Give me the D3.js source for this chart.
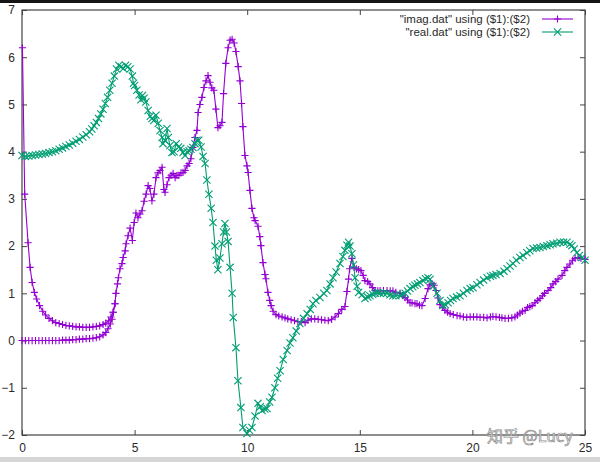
<!DOCTYPE html>
<html>
<head>
<meta charset="utf-8">
<script src="https://cdn.jsdelivr.net/npm/d3@7"></script>
<style>
  html, body { margin: 0; padding: 0; background: #fff; }
  svg { display: block; }
</style>
</head>
<body>
<svg id="chart" width="600" height="462"></svg>
<script>
// ---------------- data ----------------
const xTicks = [0, 5, 10, 15, 20, 25];
const yTicks = [-2, -1, 0, 1, 2, 3, 4, 5, 6, 7];
const seriesNames = ['"imag.dat" using ($1):($2)', '"real.dat" using ($1):($2)'];

// imag.dat : decaying branch starting at x=0
const imagBranchA = [[0.02,6.2],[0.12,3.1],[0.27,2.07],[0.36,1.55],[0.45,1.23],[0.55,1.02],[0.65,0.88],[0.78,0.74],
  [0.92,0.62],[1.05,0.54],[1.2,0.47],[1.35,0.42],[1.5,0.38],[1.65,0.36],[1.8,0.34],[1.95,0.32],[2.1,0.31],
  [2.25,0.3],[2.4,0.29],[2.55,0.29],[2.7,0.28],[2.85,0.28],[3.0,0.28],[3.15,0.29],[3.3,0.3],[3.45,0.31],
  [3.6,0.34],[3.72,0.37],[3.85,0.42],[3.95,0.5],[4.04,0.6],[4.13,0.78]];

// imag.dat : main branch
const imagBranchB = [[0,0],[0.15,0],[0.3,0],[0.45,0],[0.6,0],[0.75,0],[0.9,0],[1.05,0],[1.2,0],[1.35,0],
  [1.5,0],[1.65,0],[1.8,0.01],[1.95,0.01],[2.1,0.01],[2.25,0.02],[2.4,0.02],[2.55,0.03],[2.7,0.03],
  [2.85,0.04],[3.0,0.04],[3.15,0.05],[3.3,0.06],[3.45,0.08],[3.6,0.12],[3.72,0.17],[3.82,0.25],[3.92,0.35],
  [4.0,0.45],[4.06,0.6],[4.13,0.78],[4.17,1.0],[4.24,1.2],[4.28,1.33],[4.35,1.52],[4.44,1.63],[4.49,1.76],
  [4.58,1.9],[4.62,2.05],[4.71,2.22],[4.8,2.38],[4.9,2.12],[4.98,2.5],[5.06,2.7],[5.15,2.6],[5.24,2.68],
  [5.33,2.75],[5.42,2.95],[5.51,3.1],[5.6,3.28],[5.68,3.22],[5.77,2.96],[5.86,3.1],[5.95,3.45],[6.04,3.55],
  [6.13,3.6],[6.22,3.67],[6.3,3.2],[6.35,3.14],[6.44,3.3],[6.53,3.45],[6.62,3.5],[6.71,3.54],[6.8,3.45],
  [6.88,3.5],[6.97,3.5],[7.06,3.55],[7.15,3.56],[7.24,3.6],[7.33,3.7],[7.42,3.75],[7.5,3.85],[7.59,4.09],
  [7.68,4.3],[7.77,4.45],[7.82,4.83],[7.9,5.0],[7.99,5.15],[8.08,5.36],[8.17,5.5],[8.26,5.61],[8.35,5.47],
  [8.43,5.35],[8.52,5.3],[8.61,4.9],[8.7,4.51],[8.79,4.55],[8.88,4.62],[8.95,5.23],[9.05,5.87],[9.15,6.2],
  [9.24,6.36],[9.33,6.38],[9.42,6.3],[9.5,6.12],[9.6,5.8],[9.68,5.5],[9.75,5.02],[9.81,4.53],[9.9,3.92],
  [9.99,3.7],[10.04,3.56],[10.12,3.18],[10.21,2.8],[10.3,2.6],[10.35,2.54],[10.48,2.42],[10.56,2.2],
  [10.61,2.01],[10.7,1.65],[10.79,1.4],[10.83,1.31],[10.92,1.02],[11.0,0.85],[11.06,0.74],[11.15,0.62],
  [11.28,0.55],[11.4,0.52],[11.55,0.5],[11.68,0.48],[11.8,0.46],[11.95,0.44],[12.1,0.42],[12.25,0.4],
  [12.4,0.4],[12.57,0.38],[12.7,0.43],[12.85,0.46],[13.0,0.46],[13.15,0.45],[13.3,0.44],[13.45,0.43],
  [13.6,0.42],[13.75,0.45],[13.9,0.5],[14.05,0.57],[14.2,0.66],[14.34,0.72],[14.43,1.04],[14.5,1.3],
  [14.55,1.52],[14.65,1.74],[14.75,1.55],[14.85,1.52],[14.95,1.5],[15.05,1.48],[15.15,1.38],[15.23,1.27],
  [15.35,1.25],[15.45,1.2],[15.57,1.12],[15.68,1.06],[15.8,1.05],[15.9,1.06],[16.05,1.06],[16.21,1.06],
  [16.35,1.05],[16.47,1.05],[16.6,1.02],[16.79,1.0],[16.9,0.95],[17.01,0.91],[17.12,0.86],[17.23,0.8],
  [17.32,0.8],[17.45,0.78],[17.54,0.78],[17.65,0.75],[17.76,0.74],[17.9,0.89],[18.03,1.1],[18.12,1.18],
  [18.21,1.2],[18.3,1.17],[18.38,1.06],[18.47,0.9],[18.56,0.76],[18.67,0.7],[18.78,0.64],[18.9,0.6],
  [19.01,0.57],[19.15,0.55],[19.32,0.53],[19.45,0.52],[19.6,0.5],[19.75,0.49],[19.9,0.5],[20.05,0.5],
  [20.2,0.5],[20.34,0.49],[20.5,0.49],[20.65,0.48],[20.8,0.5],[20.91,0.51],[21.05,0.5],[21.2,0.49],
  [21.31,0.48],[21.45,0.47],[21.6,0.47],[21.75,0.48],[21.89,0.5],[22.0,0.54],[22.11,0.58],[22.22,0.62],
  [22.34,0.64],[22.45,0.7],[22.55,0.72],[22.65,0.74],[22.78,0.8],[22.9,0.85],[23.0,0.89],[23.12,0.95],
  [23.2,1.0],[23.36,1.06],[23.48,1.12],[23.58,1.2],[23.7,1.25],[23.8,1.3],[23.98,1.38],[24.1,1.48],
  [24.2,1.55],[24.33,1.62],[24.45,1.7],[24.56,1.74],[24.69,1.76],[24.82,1.74],[25.0,1.72]];

// real.dat
const realPoints = [[0,3.92],[0.15,3.9],[0.3,3.91],[0.45,3.92],[0.6,3.93],[0.75,3.94],[0.9,3.95],[1.05,3.96],
  [1.2,3.98],[1.35,4.0],[1.5,4.02],[1.65,4.05],[1.8,4.08],[1.95,4.11],[2.1,4.14],[2.25,4.18],[2.4,4.22],
  [2.55,4.26],[2.7,4.31],[2.85,4.36],[3.0,4.42],[3.1,4.48],[3.2,4.55],[3.3,4.62],[3.4,4.7],[3.5,4.8],
  [3.6,4.9],[3.7,5.02],[3.8,5.15],[3.9,5.3],[4.0,5.45],[4.1,5.6],[4.2,5.75],[4.3,5.83],[4.4,5.8],
  [4.5,5.76],[4.6,5.83],[4.7,5.8],[4.8,5.75],[4.9,5.6],[4.95,5.45],[5.0,5.4],[5.1,5.3],[5.2,5.2],
  [5.28,5.1],[5.35,5.19],[5.42,5.13],[5.5,5.05],[5.6,4.87],[5.7,4.75],[5.77,4.7],[5.85,4.66],[5.95,4.77],
  [6.05,4.6],[6.13,4.45],[6.22,4.3],[6.26,4.17],[6.35,4.24],[6.44,4.49],[6.5,4.3],[6.57,4.13],[6.66,3.98],
  [6.75,4.0],[6.85,4.17],[6.95,4.1],[7.05,4.07],[7.15,3.98],[7.24,3.92],[7.33,4.0],[7.42,4.02],[7.5,4.05],
  [7.59,4.09],[7.68,4.17],[7.77,4.24],[7.85,4.24],[7.95,4.1],[8.04,3.9],[8.13,3.75],[8.21,3.4],[8.3,3.1],
  [8.4,2.8],[8.48,2.5],[8.57,2.0],[8.63,1.7],[8.7,1.5],[8.79,1.75],[8.88,2.05],[8.95,2.3],[9.01,2.48],
  [9.08,2.3],[9.15,2.1],[9.24,1.55],[9.33,1.0],[9.38,0.49],[9.5,-0.15],[9.59,-0.85],[9.72,-1.42],
  [9.81,-1.84],[9.99,-1.97],[10.1,-1.9],[10.21,-1.84],[10.35,-1.6],[10.48,-1.33],[10.58,-1.4],[10.66,-1.48],
  [10.78,-1.45],[10.88,-1.44],[11.0,-1.3],[11.1,-1.2],[11.23,-1.0],[11.35,-0.8],[11.46,-0.64],[11.6,-0.4],
  [11.77,-0.21],[11.9,-0.05],[12.03,0.06],[12.18,0.2],[12.34,0.36],[12.5,0.47],[12.66,0.57],[12.8,0.66],
  [12.92,0.78],[13.05,0.85],[13.23,0.91],[13.4,1.0],[13.54,1.06],[13.68,1.2],[13.81,1.33],[13.95,1.45],
  [14.12,1.63],[14.25,1.78],[14.34,1.91],[14.43,2.02],[14.5,2.08],[14.56,2.0],[14.65,1.84],[14.72,1.6],
  [14.79,1.33],[14.88,1.15],[14.95,1.02],[15.1,0.97],[15.23,0.89],[15.35,0.92],[15.45,0.95],[15.57,0.98],
  [15.68,1.0],[15.8,1.02],[15.9,1.0],[16.05,1.0],[16.2,1.0],[16.34,0.97],[16.47,0.95],[16.6,0.95],
  [16.79,0.96],[16.9,0.98],[17.01,1.0],[17.12,1.05],[17.23,1.1],[17.35,1.14],[17.45,1.17],[17.56,1.2],
  [17.67,1.23],[17.8,1.27],[17.92,1.31],[18.03,1.33],[18.12,1.3],[18.25,1.15],[18.43,1.0],[18.56,0.85],
  [18.69,0.74],[18.8,0.76],[18.92,0.8],[19.03,0.85],[19.14,0.89],[19.3,0.92],[19.45,0.95],[19.6,1.0],
  [19.76,1.06],[19.9,1.1],[20.03,1.12],[20.2,1.18],[20.34,1.23],[20.5,1.28],[20.65,1.33],[20.8,1.36],
  [20.91,1.38],[21.05,1.4],[21.23,1.42],[21.4,1.47],[21.54,1.52],[21.67,1.58],[21.8,1.63],[21.95,1.7],
  [22.11,1.76],[22.25,1.8],[22.42,1.86],[22.55,1.9],[22.69,1.95],[22.85,1.96],[23.0,1.97],[23.15,1.99],
  [23.31,2.01],[23.45,2.03],[23.58,2.05],[23.75,2.06],[23.89,2.08],[24.05,2.08],[24.2,2.08],[24.33,2.04],
  [24.42,2.01],[24.52,1.94],[24.64,1.86],[24.75,1.8],[24.87,1.76],[25.0,1.7]];

// ---------------- drawing ----------------
const svg = d3.select('#chart');
const W = 600, H = 462;
const plot = { left: 22, right: 585, top: 10, bottom: 435 };
const imagColor = '#9400d3', realColor = '#009e73', axisColor = '#444', textColor = '#2a2a2a';

svg.append('rect').attr('width', W).attr('height', H).attr('fill', '#fff');

const x = d3.scaleLinear().domain([0, 25]).range([plot.left, plot.right]);
const y = d3.scaleLinear().domain([-2, 7]).range([plot.bottom, plot.top]);

const fontFam = '"Liberation Sans", Arial, sans-serif';

// axes (ticks inward, mirrored)
const gB = svg.append('g').attr('transform', `translate(0,${plot.bottom})`)
  .call(d3.axisBottom(x).tickValues(xTicks).tickFormat(d3.format('d')).tickSizeInner(-5).tickSizeOuter(0).tickPadding(8));
const gL = svg.append('g').attr('transform', `translate(${plot.left},0)`)
  .call(d3.axisLeft(y).tickValues(yTicks).tickFormat(d3.format('d')).tickSizeInner(-5).tickSizeOuter(0).tickPadding(7));
const gT = svg.append('g').attr('transform', `translate(0,${plot.top})`)
  .call(d3.axisTop(x).tickValues(xTicks).tickFormat('').tickSizeInner(-5).tickSizeOuter(0));
const gR = svg.append('g').attr('transform', `translate(${plot.right},0)`)
  .call(d3.axisRight(y).tickValues(yTicks).tickFormat('').tickSizeInner(-5).tickSizeOuter(0));
[gB, gL, gT, gR].forEach(g => {
  g.select('.domain').remove();
  g.selectAll('line').attr('stroke', axisColor).attr('stroke-width', 1);
  g.selectAll('text').attr('fill', textColor).style('font-family', fontFam).style('font-size', '12px');
});

svg.append('rect')
  .attr('x', plot.left).attr('y', plot.top)
  .attr('width', plot.right - plot.left).attr('height', plot.bottom - plot.top)
  .attr('fill', 'none').attr('stroke', axisColor).attr('stroke-width', 1.2);

// clip
svg.append('clipPath').attr('id', 'clip').append('rect')
  .attr('x', plot.left - 6).attr('y', plot.top - 6)
  .attr('width', plot.right - plot.left + 12).attr('height', plot.bottom - plot.top + 12);

const line = d3.line().x(d => x(d[0])).y(d => y(d[1]));
const ms = 3.6;
const plusPath = `M${-ms},0H${ms}M0,${-ms}V${ms}`;
const crossPath = `M${-ms},${-ms}L${ms},${ms}M${-ms},${ms}L${ms},${-ms}`;

const plotG = svg.append('g').attr('clip-path', 'url(#clip)');

function drawSeries(arr, color, shape) {
  plotG.append('path').datum(arr)
    .attr('d', line).attr('fill', 'none').attr('stroke', color).attr('stroke-width', 1.1);
  plotG.append('g').selectAll('path').data(arr).join('path')
    .attr('transform', d => `translate(${x(d[0])},${y(d[1])})`)
    .attr('d', shape).attr('fill', 'none').attr('stroke', color).attr('stroke-width', 1.1);
}
drawSeries(imagBranchA, imagColor, plusPath);
drawSeries(imagBranchB, imagColor, plusPath);
drawSeries(realPoints, realColor, crossPath);

// legend
const legend = svg.append('g');
const legRows = [
  { name: seriesNames[0], color: imagColor, shape: plusPath, yy: 19 },
  { name: seriesNames[1], color: realColor, shape: crossPath, yy: 32 }
];
legRows.forEach(r => {
  legend.append('text').attr('x', 530).attr('y', r.yy).attr('dy', '0.35em')
    .attr('text-anchor', 'end').attr('fill', textColor)
    .style('font-family', fontFam).style('font-size', '11.5px').text(r.name);
  legend.append('line').attr('x1', 542).attr('x2', 573).attr('y1', r.yy).attr('y2', r.yy)
    .attr('stroke', r.color).attr('stroke-width', 1.1);
  legend.append('path').attr('transform', `translate(557.5,${r.yy})`).attr('d', r.shape)
    .attr('fill', 'none').attr('stroke', r.color).attr('stroke-width', 1.1);
});

// screenshot frame bits
svg.append('rect').attr('x', 0).attr('y', 0).attr('width', W).attr('height', 3).attr('fill', '#151515');
svg.append('rect').attr('x', 0).attr('y', 457).attr('width', W).attr('height', 5).attr('fill', '#d6d6d6');

// watermark
svg.append('text').attr('x', 487).attr('y', 442)
  .attr('fill', 'rgba(255,255,255,0.85)').attr('stroke', '#8a8a8a').attr('stroke-width', 0.7)
  .style('font-family', '"Noto Sans CJK SC", "Noto Sans", sans-serif').style('font-size', '16px')
  .text('知乎 @Lucy');
</script>
</body>
</html>
